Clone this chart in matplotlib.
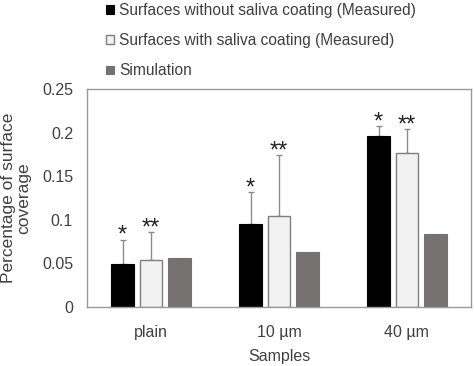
import matplotlib
matplotlib.use("Agg")
import matplotlib.pyplot as plt
import numpy as np

plt.rcParams['font.family'] = ['Liberation Sans', 'DejaVu Sans']

categories = ["plain", "10 \u00b5m", "40 \u00b5m"]
series_names = ["Surfaces without saliva coating (Measured)",
                "Surfaces with saliva coating (Measured)",
                "Simulation"]
without_saliva = [0.049, 0.095, 0.1965]
with_saliva = [0.0535, 0.1045, 0.177]
simulation = [0.0557, 0.0633, 0.0833]
err_without = [0.028, 0.037, 0.011]
err_with = [0.032, 0.070, 0.027]
stars_without = ["*", "*", "*"]
stars_with = ["**", "**", "**"]
yticks = [0, 0.05, 0.1, 0.15, 0.2, 0.25]
ytick_labels = ["0", "0.05", "0.1", "0.15", "0.2", "0.25"]

fig = plt.figure(figsize=(4.74, 3.66), dpi=100)
ax = fig.add_axes([0.1835, 0.162, 0.81, 0.5935])

x = np.arange(len(categories))
step = 0.222
w = 0.175

b1 = ax.bar(x - step, without_saliva, w, color='black', edgecolor='black', linewidth=0.8,
            label=series_names[0], zorder=2)
b2 = ax.bar(x, with_saliva, w, color='#f2f2f2', edgecolor='#7f7f7f', linewidth=1.0,
            label=series_names[1], zorder=2)
b3 = ax.bar(x + step, simulation, w, color='#767171', edgecolor='#767171', linewidth=0.8,
            label=series_names[2], zorder=2)

zeros = [0, 0, 0]
ax.errorbar(x - step, without_saliva, yerr=[zeros, err_without], fmt='none',
            ecolor='#8c8c8c', elinewidth=1.0, capsize=2.5, capthick=1.0, zorder=1)
ax.errorbar(x, with_saliva, yerr=[zeros, err_with], fmt='none',
            ecolor='#8c8c8c', elinewidth=1.0, capsize=2.5, capthick=1.0, zorder=1)

for xi, v, e, s in zip(x - step, without_saliva, err_without, stars_without):
    ax.annotate(s, (xi, v + e), xytext=(0, -1.5), textcoords='offset points',
                ha='center', va='baseline', fontsize=17, color='#222222')
for xi, v, e, s in zip(x, with_saliva, err_with, stars_with):
    ax.annotate(s, (xi, v + e), xytext=(0, -1.5), textcoords='offset points',
                ha='center', va='baseline', fontsize=17, color='#222222')

ax.set_xlim(-0.5, 2.5)
ax.set_ylim(0, 0.25)
ax.set_yticks(yticks)
ax.set_yticklabels(ytick_labels)
ax.set_xticks(x)
ax.set_xticklabels(categories)
ax.tick_params(axis='both', length=0, labelsize=11.5, colors='#404040')
ax.tick_params(axis='y', pad=10)
ax.tick_params(axis='x', pad=13)
for sp in ax.spines.values():
    sp.set_color('#999999')
    sp.set_linewidth(1.0)

ax.set_xlabel("Samples", fontsize=11.5, color='#404040', labelpad=7)
ax.set_ylabel("Percentage of surface\ncoverage", fontsize=12.5, color='#404040',
              labelpad=8, linespacing=1.0)

leg = fig.legend(handles=[b1, b2, b3], loc='upper left', bbox_to_anchor=(0.2115, 1.008),
                 frameon=False, fontsize=11.2, handlelength=0.5, handleheight=0.5,
                 handletextpad=0.3, labelspacing=0.97, borderaxespad=0.0)
for t in leg.get_texts():
    t.set_color('#404040')

fig.savefig("out.png", dpi=100)
